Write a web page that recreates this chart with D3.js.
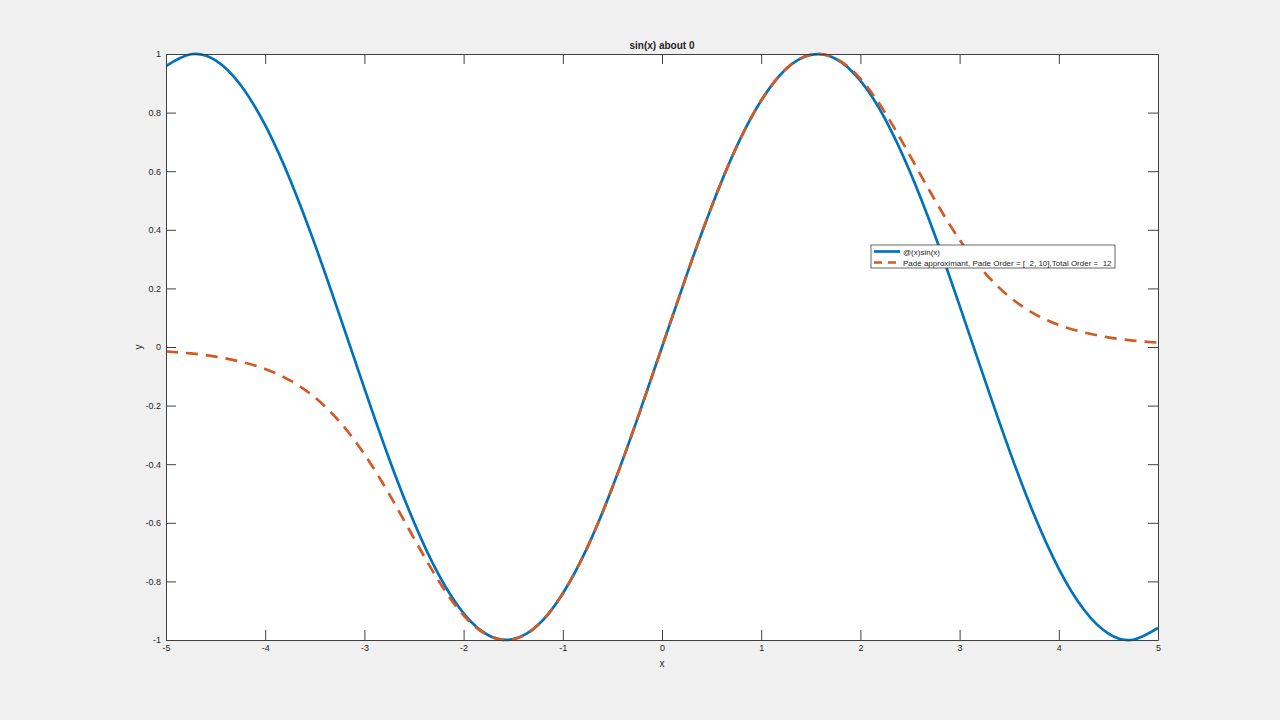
<!DOCTYPE html>
<html lang="en">
<head>
<meta charset="UTF-8">
<title>sin(x) about 0</title>
<script src="https://d3js.org/d3.v7.min.js"></script>
<style>
  body { margin: 0; background: #f0f0f0; }
  text { font-family: "Liberation Sans", Arial, sans-serif; fill: #262626; white-space: pre; }
</style>
</head>
<body>
<svg width="1280" height="720"></svg>
<script>
  // x samples, step 0.25
  let xs = [-5, -4.75, -4.5, -4.25, -4, -3.75, -3.5, -3.25, -3, -2.75, -2.5, -2.25, -2, -1.75, -1.5, -1.25, -1, -0.75, -0.5, -0.25,
            0, 0.25, 0.5, 0.75, 1, 1.25, 1.5, 1.75, 2, 2.25, 2.5, 2.75, 3, 3.25, 3.5, 3.75, 4, 4.25, 4.5, 4.75, 5]
  let sinVals = [0.959, 0.999, 0.978, 0.895, 0.757, 0.572, 0.351, 0.108, -0.141, -0.382, -0.598, -0.778, -0.909, -0.984, -0.997, -0.949, -0.841, -0.682, -0.479, -0.247,
                 0, 0.247, 0.479, 0.682, 0.841, 0.949, 0.997, 0.984, 0.909, 0.778, 0.598, 0.382, 0.141, -0.108, -0.351, -0.572, -0.757, -0.895, -0.978, -0.999, -0.959]
  let padeVals = [-0.015, -0.022, -0.033, -0.050, -0.075, -0.114, -0.172, -0.255, -0.366, -0.502, -0.653, -0.799, -0.916, -0.985, -0.998, -0.949, -0.841, -0.682, -0.479, -0.247,
                  0, 0.247, 0.479, 0.682, 0.841, 0.949, 0.998, 0.985, 0.916, 0.799, 0.653, 0.502, 0.366, 0.255, 0.172, 0.114, 0.075, 0.050, 0.033, 0.022, 0.015]
  let xTicks = [-5, -4, -3, -2, -1, 0, 1, 2, 3, 4, 5]
  let yTicks = [-1, -0.8, -0.6, -0.4, -0.2, 0, 0.2, 0.4, 0.6, 0.8, 1]
  let seriesNames = ['@(x)sin(x)', 'Padé approximant, Pade Order = [  2, 10],Total Order =  12']
  let colors = ['#0072BD', '#D45A24']

  let pL = 166, pR = 1158, pT = 54, pB = 640
  let xScale = d3.scaleLinear().domain([-5, 5]).range([pL, pR])
  let yScale = d3.scaleLinear().domain([-1, 1]).range([pB, pT])

  let svg = d3.select('svg')
  let axCol = '#404040'
  let fmt = d => String(d)   // plain hyphen minus like MATLAB

  svg.append('rect').attr('x', pL).attr('y', pT).attr('width', pR - pL).attr('height', pB - pT)
     .attr('fill', 'white')

  let clip = svg.append('clipPath').attr('id', 'plotclip')
  clip.append('rect').attr('x', pL).attr('y', pT - 2).attr('width', pR - pL).attr('height', pB - pT + 4)

  let line = d3.line().x(d => xScale(d[0])).y(d => yScale(d[1])).curve(d3.curveNatural)

  let g = svg.append('g').attr('clip-path', 'url(#plotclip)')
  g.append('path').datum(xs.map((x, i) => [x, sinVals[i]]))
   .attr('d', line).attr('fill', 'none').attr('stroke', colors[0]).attr('stroke-width', 2.7)
  g.append('path').datum(xs.map((x, i) => [x, padeVals[i]]))
   .attr('d', line).attr('fill', 'none').attr('stroke', colors[1]).attr('stroke-width', 2.7)
   .attr('stroke-dasharray', '12,8')

  // axes: bottom/left with labels, top/right mirrored ticks
  let tickLen = 10
  let xb = svg.append('g').attr('transform', `translate(0,${pB})`)
    .call(d3.axisBottom(xScale).tickValues(xTicks).tickSizeInner(-tickLen).tickSizeOuter(0).tickPadding(5).tickFormat(fmt))
  let yl = svg.append('g').attr('transform', `translate(${pL},0)`)
    .call(d3.axisLeft(yScale).tickValues(yTicks).tickSizeInner(-tickLen).tickSizeOuter(0).tickPadding(5).tickFormat(fmt))
  let xt = svg.append('g').attr('transform', `translate(0,${pT})`)
    .call(d3.axisTop(xScale).tickValues(xTicks).tickSizeInner(-tickLen).tickSizeOuter(0).tickFormat(''))
  let yr = svg.append('g').attr('transform', `translate(${pR},0)`)
    .call(d3.axisRight(yScale).tickValues(yTicks).tickSizeInner(-tickLen).tickSizeOuter(0).tickFormat(''))

  ;[xb, yl, xt, yr].forEach(a => {
    a.selectAll('path, line').attr('stroke', axCol).attr('stroke-width', 1)
    a.selectAll('text').style('font-size', '9px').attr('fill', '#262626')
      .style('font-family', '"Liberation Sans", Arial, sans-serif')
  })

  // titles
  svg.append('text').attr('x', (pL + pR) / 2).attr('y', 49).attr('text-anchor', 'middle')
     .style('font-size', '10px').style('font-weight', 'bold').text('sin(x) about 0')
  svg.append('text').attr('x', (pL + pR) / 2).attr('y', 667).attr('text-anchor', 'middle')
     .style('font-size', '10px').text('x')
  svg.append('text').attr('transform', `translate(142,${(pT + pB) / 2}) rotate(-90)`).attr('text-anchor', 'middle')
     .style('font-size', '10px').text('y')

  // legend
  let lg = svg.append('g').attr('transform', 'translate(871,245)')
  lg.append('rect').attr('width', 244).attr('height', 23).attr('fill', 'white')
    .attr('stroke', axCol).attr('stroke-width', 0.8)
  seriesNames.forEach((name, i) => {
    let yy = 6.5 + i * 11
    lg.append('line').attr('x1', 3).attr('x2', 29).attr('y1', yy).attr('y2', yy)
      .attr('stroke', colors[i]).attr('stroke-width', 2.7)
      .attr('stroke-dasharray', i === 1 ? '8,6' : null)
    lg.append('text').attr('x', 32).attr('y', yy + 3).style('font-size', '8px').text(name)
  })
</script>
</body>
</html>
